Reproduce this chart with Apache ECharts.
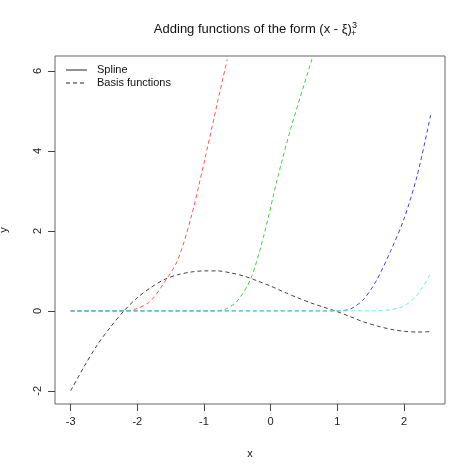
<!DOCTYPE html>
<html>
<head>
<meta charset="utf-8">
<script src="https://cdn.jsdelivr.net/npm/echarts@6/dist/echarts.min.js"></script>
<style>html,body{margin:0;background:#fff}#c{width:474px;height:474px}</style>
</head>
<body>
<div id="c"></div>
<script>
// values
var splineX = [-3,-2.8,-2.6,-2.4,-2.2,-2,-1.8,-1.6,-1.4,-1.2,-1,-0.8,-0.6,-0.4,-0.2,0,0.2,0.4,0.6,0.8,1,1.2,1.4,1.6,1.8,2,2.2,2.4];
var splineY = [-2,-1.4,-0.85,-0.4,0,0.33,0.58,0.78,0.9,0.97,1,1,0.95,0.87,0.75,0.62,0.47,0.33,0.2,0.09,-0.02,-0.15,-0.28,-0.38,-0.46,-0.51,-0.53,-0.52];

var redX = [-3,-2.2,-2,-1.8,-1.6,-1.4,-1.2,-1,-0.8,-0.65];
var redY = [0,0,0.06,0.25,0.7,1.25,2.3,3.7,5.2,6.3];
var greenX = [-3,-0.9,-0.7,-0.5,-0.3,-0.1,0.1,0.3,0.5,0.62];
var greenY = [0,0,0.03,0.25,0.8,1.9,3.3,4.55,5.65,6.3];
var blueX = [-3,1,1.2,1.4,1.6,1.8,2,2.2,2.4];
var blueY = [0,0,0.05,0.3,0.8,1.5,2.3,3.4,4.9];
var cyanX = [-3,1.6,1.8,2,2.2,2.4];
var cyanY = [0,0,0.03,0.12,0.4,0.93];

var xTicks = [-3,-2,-1,0,1,2];
var yTicks = [-2,0,2,4,6];
var legendNames = ['Spline', 'Basis functions'];

function pts(xs, ys) { return xs.map(function(x, i) { return [x, ys[i]]; }); }

function dashed(name, xs, ys, color) {
  return {
    name: name, type: 'line', data: pts(xs, ys), smooth: 0.3, symbol: 'none',
    lineStyle: { color: color, width: 1, type: [4, 3] }, silent: true
  };
}

// legend drawn by hand, R style
var legend = [];
legendNames.forEach(function(n, i) {
  var y = 70 + i * 13;
  legend.push({ type: 'line', shape: { x1: 66, y1: y, x2: 87, y2: y },
    style: { stroke: '#222', lineWidth: 1, lineDash: i ? [4, 3] : null } });
  legend.push({ type: 'text', x: 97, y: y, style: { text: n, fontSize: 11, fill: '#111',
    verticalAlign: 'middle', fontFamily: 'Liberation Sans, Arial, sans-serif' } });
});

var chart = echarts.init(document.getElementById('c'));
chart.setOption({
  animation: false,
  textStyle: { fontFamily: 'Liberation Sans, Arial, sans-serif' },
  title: {
    text: 'Adding functions of the form (x - ξ){sup|3}{sub|+}',
    left: 250, top: 16, textAlign: 'center',
    textStyle: {
      fontSize: 13, fontWeight: 'normal', color: '#111',
      rich: {
        sup: { fontSize: 9, verticalAlign: 'top', padding: [0, 0, 8, 0] },
        sub: { fontSize: 9, verticalAlign: 'bottom', padding: [6, 0, 0, -6] }
      }
    }
  },
  graphic: legend,
  grid: { left: 55, right: 29, top: 56, bottom: 70, show: true, borderColor: '#666', borderWidth: 1,
    containLabel: false, outerBoundsMode: 'none' },
  xAxis: {
    type: 'value', min: -3.235, max: 2.615, name: 'x', nameLocation: 'middle', nameGap: 44,
    nameTextStyle: { fontSize: 11, color: '#111' },
    axisLine: { show: false, onZero: false }, splitLine: { show: false },
    axisTick: { show: true, length: 7, customValues: xTicks, lineStyle: { color: '#444' } },
    axisLabel: { customValues: xTicks, fontSize: 11, color: '#222', margin: 12 }
  },
  yAxis: {
    type: 'value', min: -2.33, max: 6.375, name: 'y', nameLocation: 'middle', nameGap: 46,
    nameTextStyle: { fontSize: 11, color: '#111' },
    axisLine: { show: false, onZero: false }, splitLine: { show: false },
    axisTick: { show: true, length: 7, customValues: yTicks, lineStyle: { color: '#444' } },
    axisLabel: { customValues: yTicks, fontSize: 11, color: '#222', rotate: 90, margin: 12 }
  },
  series: [
    dashed('s', splineX, splineY, '#444'),
    dashed('r', redX, redY, '#f55'),
    dashed('g', greenX, greenY, '#4c4'),
    dashed('b', blueX, blueY, '#44c'),
    dashed('c', cyanX, cyanY, '#6ee')
  ]
});
</script>
</body>
</html>
